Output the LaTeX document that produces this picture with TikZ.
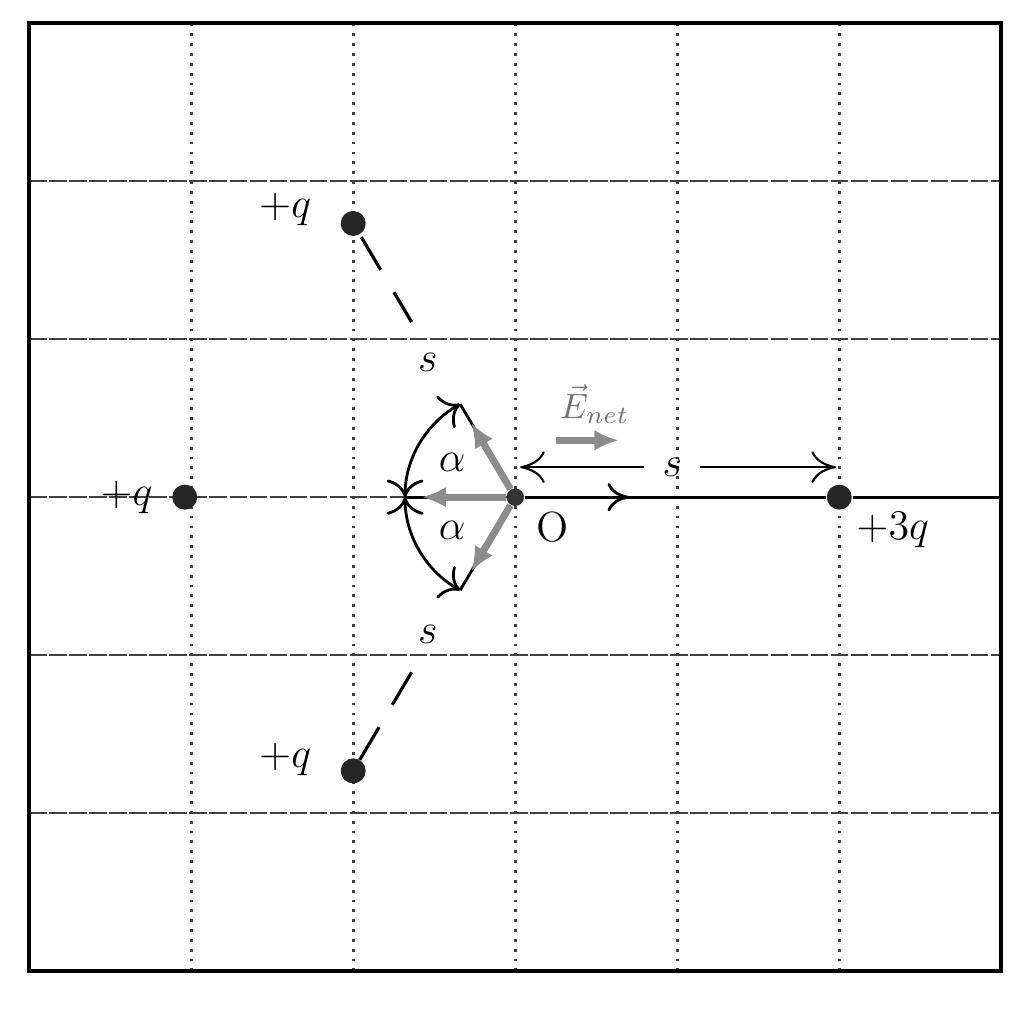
\documentclass[tikz,border=0pt]{standalone}
\usepackage{amsmath}
\usetikzlibrary{arrows.meta, calc, positioning}

\begin{document}
\begin{tikzpicture}[x=1.62cm, y=1.58cm,
    charge/.style={circle, fill=black!85, inner sep=0pt, minimum size=0.25cm},
    lbl/.style={font=\large},
    gridh/.style={black!75, dash pattern=on 5pt off 0.7pt, line width=0.5pt},
    gridv/.style={black!75, dotted, line width=0.8pt},
    vec/.style={line width=0.8pt},
    field/.style={black!45, line width=2pt, -{Latex[length=7pt,width=6pt]}},
    dimline/.style={line width=0.6pt, -{To[length=7pt,width=9pt]}}
]
\useasboundingbox (-3.18,-3.27) rectangle (3.14,3.146);
% grid
\foreach \x in {-2,...,2}
    \draw[gridv] (\x,-3) -- (\x,3);
\foreach \y in {-2,-1,1,2}
    \draw[gridh] (-3,\y) -- (3,\y);
\draw[gridh] (-3,0) -- (0,0);
\draw[line width=1.1pt] (-3,-3) rectangle (3,3);

% charges
\node[circle, fill=black!80, inner sep=0pt, minimum size=5pt] (O) at (0,0) {};
\node[charge] (qtop) at (120:2) {};
\node[charge] (qbot) at (240:2) {};
\node[charge] (qleft) at (-2.04,0) {};
\node[charge] (qthree) at (2,0) {};
\coordinate (axisend) at (3,0);
\draw[line width=0.8pt] (O) -- (qthree) -- (axisend);

\node[lbl] (lqtop) at (-1.42,1.82) {$+q$};
\node[lbl] (lqleft) at (-2.4,0) {$+q$};
\node[lbl] (lqbot) at (-1.42,-1.66) {$+q$};
\node[lbl] (lqthree) at (2.33,-0.21) {$+3q$};
\node[lbl] (lO) at (0.23,-0.19) {O};

% distances
\draw[line width=0.9pt, dash pattern=on 0.38cm off 0.26cm]
    ($(qtop)!0.05!(O)$) -- ($(qtop)!0.36!(O)$);
\draw[line width=0.9pt, dash pattern=on 0.38cm off 0.26cm]
    ($(qbot)!0.04!(O)$) -- ($(qbot)!0.36!(O)$);
\node[lbl] (stop) at (-0.54,0.85) {$s$};
\node[lbl] (sbot) at (-0.54,-0.87) {$s$};
\coordinate (sL) at (0.03,0.19);
\coordinate (sR) at (1.98,0.19);
\node[lbl, inner sep=5pt] (smid) at (0.97,0.19) {$s$};
\draw[dimline] (smid.west) -- (sL);
\draw[dimline] (smid.east) -- (sR);

% field vectors at O
\coordinate (Etop) at (120:0.68);
\coordinate (Eleft) at (180:0.68);
\coordinate (Ebot) at (240:0.68);
\coordinate (Eright) at (0.70,0);
\draw[vec] (O) -- (Etop);
\draw[vec] (O) -- (Eleft);
\draw[vec] (O) -- (Ebot);
\draw[vec, -{To[length=6pt,width=8pt]}] (O) -- (Eright);
\draw[field] (O) -- ($(O)!0.8!(Etop)$);
\draw[field] (O) -- ($(O)!0.85!(Eleft)$);
\draw[field] (O) -- ($(O)!0.8!(Ebot)$);
\draw[vec, {To[length=5pt]}-{To[length=5pt]}] (Eleft) arc[start angle=180, end angle=120, radius=0.68];
\draw[vec, {To[length=5pt]}-{To[length=5pt]}] (Eleft) arc[start angle=180, end angle=240, radius=0.68];
\node[lbl] (atop) at (-0.39,0.22) {$\alpha$};
\node[lbl] (abot) at (-0.39,-0.21) {$\alpha$};

% net field
\node[black!55, inner sep=1pt] (Enet) at (0.49,0.59) {$\vec{E}_{net}$};
\coordinate (netA) at (0.25,0.36);
\coordinate (netB) at (0.64,0.36);
\draw[field] (netA) -- (netB);
\end{tikzpicture}
\end{document}
